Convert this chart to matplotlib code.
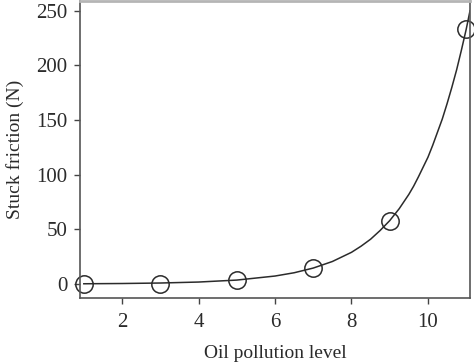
import matplotlib
matplotlib.use("Agg")
import matplotlib.pyplot as plt

# measured points
levels = [1, 3, 5, 7, 9, 11]
friction = [0.3, 0.3, 3.5, 14.6, 57.7, 233.5]

# fitted curve
curve_x = [1, 2, 3, 4, 5, 6, 6.5, 7, 7.5, 8, 8.25, 8.5, 8.75, 9, 9.25, 9.5,
           9.625, 9.75, 9.875, 10, 10.125, 10.25, 10.375, 10.5, 10.625, 10.75,
           10.875, 11, 11.1]
curve_y = [0.23, 0.46, 0.91, 1.8, 3.6, 7.3, 10.3, 14.6, 20.6, 29, 34.6, 41, 49,
           58, 69, 82, 89.5, 98, 107, 116, 127, 139, 151, 165, 180, 196,
           214, 233, 250]

xticks = [2, 4, 6, 8, 10]
yticks = [0, 50, 100, 150, 200, 250]

plt.rcParams['font.family'] = ['Liberation Serif', 'DejaVu Serif']
txt = '#2b2b2b'

fig = plt.figure(figsize=(4.74, 3.64), dpi=100)
ax = fig.add_axes([80/474, 1-298/364, 390/474, 297/364])

ax.plot(curve_x, curve_y, color='#2b2b2b', lw=1.1)
ax.plot(levels, friction, linestyle='none', marker='o', markersize=12.5,
        markerfacecolor='none', markeredgecolor='#2b2b2b', markeredgewidth=1.1,
        clip_on=False)

ax.set_xlim(0.9, 11.1)
ax.set_ylim(-12.8, 259)
ax.set_xticks(xticks)
ax.set_yticks(yticks)
ax.tick_params(direction='out', length=4, width=1, colors='#444444',
               labelcolor=txt, labelsize=15)
ax.tick_params(axis='x', pad=7)
ax.tick_params(axis='y', pad=5)
for s in ['left', 'bottom', 'right']:
    ax.spines[s].set_color('#555555')
    ax.spines[s].set_linewidth(1.2)
ax.spines['top'].set_color('#b5b5b5')
ax.spines['top'].set_linewidth(2)

ax.set_xlabel('Oil pollution level', fontsize=14, color=txt, labelpad=9)
ax.set_ylabel('Stuck friction (N)', fontsize=14, color=txt, labelpad=9)

fig.savefig('out.png', dpi=100)
